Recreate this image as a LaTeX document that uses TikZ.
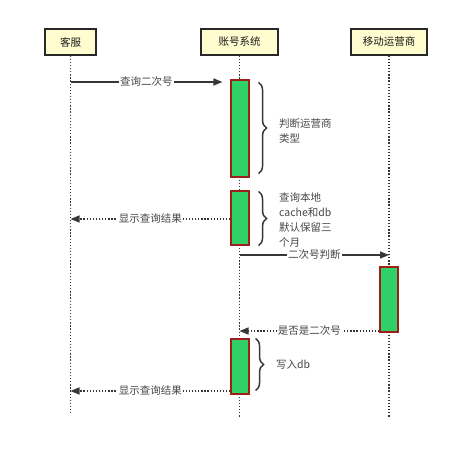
\documentclass[tikz,border=0pt]{standalone}
\usepackage{fontspec}
\setmainfont{Noto Sans CJK SC}
\usetikzlibrary{arrows.meta,decorations.pathreplacing,calc}
\definecolor{hdrfill}{RGB}{255,253,208}
\definecolor{hdrdraw}{RGB}{40,40,40}
\definecolor{actfill}{RGB}{46,208,104}
\definecolor{actdraw}{RGB}{160,30,25}
\definecolor{txt}{RGB}{70,70,70}
\definecolor{ln}{RGB}{55,55,55}
\begin{document}
\begin{tikzpicture}[x=1pt,y=-1pt,
  hdr/.style={draw=hdrdraw,fill=hdrfill,line width=1.3pt,minimum height=26pt,inner sep=0pt,font=\fontsize{10.5}{12}\selectfont,text=black!90},
  act/.style={draw=actdraw,fill=actfill,line width=1.1pt,minimum width=18pt,inner sep=0pt},
  life/.style={draw=ln,line width=1.4pt,dash pattern=on 1.3pt off 1.8pt},
  msg/.style={draw=ln,line width=1.4pt,-{Triangle[length=9pt,width=7pt]}},
  ret/.style={msg,dash pattern=on 1.3pt off 1.8pt},
  lbl/.style={fill=white,inner sep=1pt,text=txt,font=\fontsize{10.5}{12}\selectfont},
  note/.style={anchor=west,align=left,text=txt,inner sep=0pt,font=\fontsize{10.5}{14.8}\selectfont},
  brc/.style={draw=ln,line width=1.5pt,decorate,decoration={brace,amplitude=8pt,raise=0pt}}]
\useasboundingbox (0,0) rectangle (474,462);
% headers
\node[hdr,minimum width=51pt] (kf) at (70.5,42) {客服};
\node[hdr,minimum width=77pt] (zh) at (239.5,42) {账号系统};
\node[hdr,minimum width=76pt] (yd) at (389,42) {移动运营商};
% lifeline ends
\coordinate (kfend) at (70.5,413);
\coordinate (zhend) at (239.5,418);
\coordinate (ydend) at (389,418);
\draw[life] (kf.south) -- (kfend);
\draw[life] (zh.south) -- (zhend);
\draw[life] (yd.south) -- (ydend);
% activations
\node[act,minimum height=97pt] (a1) at (240,128.5) {};
\node[act,minimum height=54pt] (a2) at (240,218) {};
\node[act,minimum height=65pt] (a4) at (389,299.5) {};
\node[act,minimum height=55pt] (a3) at (240,366.5) {};
% messages
\coordinate (m1s) at (kf.south |- 0,82);
\coordinate (m1e) at ($(a1.west |- 0,82)+(-8,0)$);
\draw[msg] (m1s) -- node[lbl]{查询二次号} (m1e);
\coordinate (m2e) at (kf.south |- 0,219);
\draw[ret] (a2.west |- 0,219) -- node[lbl]{显示查询结果} (m2e);
\coordinate (m3s) at (zh.south |- 0,255);
\coordinate (m3e) at (yd.south |- 0,255);
\draw[msg] (m3s) -- node[lbl]{二次号判断} (m3e);
\coordinate (m4e) at (zh.south |- 0,331);
\draw[ret] (a4.west |- 0,331) -- node[lbl]{是否是二次号} (m4e);
\coordinate (m5e) at (kf.south |- 0,391);
\draw[ret] (a3.west |- 0,391) -- node[lbl]{显示查询结果} (m5e);
% braces and notes
\draw[brc] ($(a1.north east)+(9,3)$) -- ($(a1.south east)+(9,-4)$);
\node[note] (n1) at (279,131) {判断运营商\\类型};
\draw[brc] ($(a2.north east)+(9,1)$) -- ($(a2.south east)+(9,0)$);
\node[note] (n2) at (279,220) {查询本地\\cache和db\\默认保留三\\个月};
\draw[brc] ($(a3.north east)+(6,0)$) -- ($(a3.south east)+(6,-4)$);
\node[note] (n3) at (276,365) {写入db};
\end{tikzpicture}
\end{document}
